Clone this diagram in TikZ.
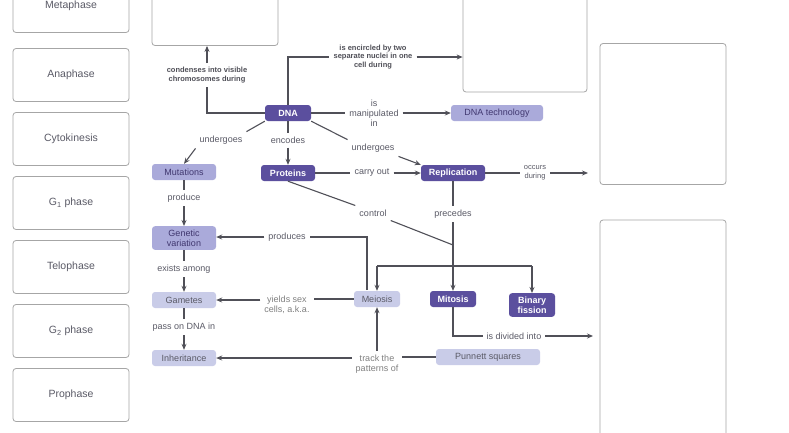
\documentclass[tikz,border=0pt]{standalone}
\usepackage{fontspec}
\setmainfont{Liberation Sans}
\usetikzlibrary{arrows.meta}
\definecolor{dk}{HTML}{5B4F9E}
\definecolor{lt}{HTML}{AAAADA}
\definecolor{vl}{HTML}{C9CCE8}
\definecolor{tx}{HTML}{5A5A66}
\definecolor{ln}{HTML}{505058}
\begin{document}
\begin{tikzpicture}[x=1pt,y=-1pt,
 every node/.style={font=\fontsize{9}{10}\selectfont, text=tx, align=center, inner sep=4pt},
 dkn/.style={fill=dk, rounded corners=3pt, text=white, font=\fontsize{9}{10}\selectfont\bfseries, inner sep=3.5pt, minimum height=16pt},
 ltn/.style={fill=lt, rounded corners=3pt, text=dk!70!black, inner sep=3.5pt, minimum height=16pt},
 vln/.style={fill=vl, rounded corners=3pt, text=tx, inner sep=3.5pt, minimum height=16pt},
 lab/.style={font=\fontsize{7.5}{8.5}\selectfont\bfseries, text=ln},
 cbox/.style={draw=gray!70, rounded corners=3pt, line width=0.8pt},
 lnk/.style={draw=ln, line width=1.1pt},
 arr/.style={lnk, -{Stealth[length=6pt,width=5pt]}},
 side/.style={cbox, minimum width=116pt, minimum height=53pt, text=tx, font=\fontsize{10.5}{12}\selectfont}]
\useasboundingbox[fill=white] (0,0) rectangle (789,432);
% left column
\node[side] (s0) at (71,6) {Metaphase};
\node[side] (s1) at (71,75) {Anaphase};
\node[side] (s2) at (71,139) {Cytokinesis};
\node[side] (s3) at (71,203) {G\textsubscript{1} phase};
\node[side] (s4) at (71,267) {Telophase};
\node[side] (s5) at (71,331) {G\textsubscript{2} phase};
\node[side] (s6) at (71,395) {Prophase};
% empty boxes
\node[cbox, minimum width=126pt, minimum height=55pt] (b1) at (215,18) {};
\node[cbox, minimum width=124pt, minimum height=100pt] (b2) at (525,42) {};
\node[cbox, minimum width=126pt, minimum height=141pt] (b3) at (663,114) {};
\node[cbox, minimum width=126pt, minimum height=230pt] (b4) at (663,335) {};
% nodes
\node[dkn, minimum width=46pt] (dna) at (288,113) {DNA};
\node[ltn, minimum width=92pt] (tech) at (497,113) {DNA technology};
\node[ltn, minimum width=64pt] (mut) at (184,172) {Mutations};
\node[dkn, minimum width=54pt] (prot) at (288,173) {Proteins};
\node[dkn, minimum width=64pt] (rep) at (453,173) {Replication};
\node[ltn, minimum width=64pt] (gen) at (184,238) {Genetic\\variation};
\node[vln, minimum width=64pt] (gam) at (184,300) {Gametes};
\node[vln, minimum width=46pt] (mei) at (377,299) {Meiosis};
\node[dkn, minimum width=46pt] (mit) at (453,299) {Mitosis};
\node[dkn, minimum width=46pt] (bin) at (532,305) {Binary\\fission};
\node[vln, minimum width=64pt] (inh) at (184,358) {Inheritance};
\node[vln, minimum width=104pt] (pun) at (488,357) {Punnett squares};
% labels
\node[lab] (l1) at (207,75) {condenses into visible\\chromosomes during};
\node[lab] (l2) at (373,57) {is encircled by two\\separate nuclei in one\\cell during};
\node (l3) at (374,113) {is\\manipulated\\in};
\node (l4) at (221,140) {undergoes};
\node (l5) at (288,140) {encodes};
\node (l6) at (373,148) {undergoes};
\node (l7) at (372,173) {carry out};
\node[font=\fontsize{7.5}{8.5}\selectfont] (l8) at (535,173) {occurs\\during};
\node (l9) at (373,213) {control};
\node (l10) at (453,214) {precedes};
\node (l11) at (287,237) {produces};
\node[text=gray] (l12) at (287,305) {yields sex\\cells, a.k.a.};
\node[text=gray] (l13) at (377,364) {track the\\patterns of};
\node (l14) at (514,336) {is divided into};
\node (l15) at (184,198) {produce};
\node (l16) at (184,269) {exists among};
\node (l17) at (184,327) {pass on DNA in};
\coordinate (e1) at (588,173);
\coordinate (e2) at (593,336);
\coordinate (j) at (453,245);
\coordinate (bl) at (377,266);
\coordinate (brr) at (532,266);
\coordinate (md) at (367,290);
% connectors
\draw[lnk] (dna.west) -| (l1.south);
\draw[arr] (l1.north) -- (l1.north |- b1.south);
\draw[lnk] (dna.north) |- (l2.west);
\draw[arr] (l2.east) -- (b2.west |- l2.east);
\draw[lnk] (dna.east) -- (l3.west);
\draw[arr] (l3.east) -- (tech.west);
\draw[lnk] (dna.south west) -- (l4.north east);
\draw[arr] (l4.south west) -- (mut.north);
\draw[lnk] (dna.south) -- (l5.north);
\draw[arr] (l5.south) -- (prot.north);
\draw[lnk] (dna.south east) -- (l6.north west);
\draw[arr] (l6.south east) -- (rep.north west);
\draw[lnk] (prot.east) -- (l7.west);
\draw[arr] (l7.east) -- (rep.west);
\draw[lnk] (rep.east) -- (l8.west);
\draw[arr] (l8.east) -- (e1);
\draw[lnk] (prot.south) -- (l9.north west);
\draw[lnk] (l9.south east) -- (j);
\draw[lnk] (rep.south) -- (l10.north);
\draw[arr] (l10.south) -- (mit.north);
\draw[lnk] (bl) -- (brr);
\draw[arr] (bl) -- (mei.north);
\draw[arr] (brr) -- (bin.north);
\draw[lnk] (md) |- (l11.east);
\draw[arr] (l11.west) -- (gen.east |- l11.west);
\draw[lnk] (mei.west) -- (l12.east |- mei.west);
\draw[arr] (l12.west |- gam.east) -- (gam.east);
\draw[lnk] (pun.west) -- (l13.east |- pun.west);
\draw[arr] (l13.west |- inh.east) -- (inh.east);
\draw[arr] (l13.north) -- (mei.south);
\draw[lnk] (mit.south) |- (l14.west);
\draw[arr] (l14.east) -- (e2);
\draw[lnk] (mut.south) -- (l15.north);
\draw[arr] (l15.south) -- (gen.north);
\draw[lnk] (gen.south) -- (l16.north);
\draw[arr] (l16.south) -- (gam.north);
\draw[lnk] (gam.south) -- (l17.north);
\draw[arr] (l17.south) -- (inh.north);
\end{tikzpicture}
\end{document}
